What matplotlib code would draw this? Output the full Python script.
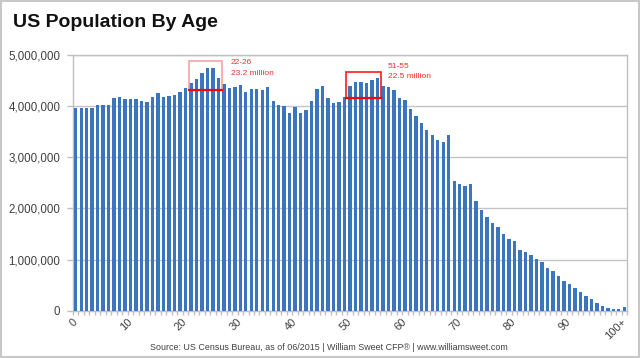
import matplotlib
matplotlib.use("Agg")
import matplotlib.pyplot as plt
from matplotlib.patches import Rectangle
from matplotlib.ticker import FuncFormatter, FixedLocator
import numpy as np

ages = list(range(0, 101))
population_millions = [
    3.97, 3.97, 3.97, 3.97, 4.02, 4.02, 4.02, 4.16, 4.18, 4.13,
    4.13, 4.13, 4.10, 4.08, 4.18, 4.25, 4.18, 4.20, 4.22, 4.28,
    4.36, 4.46, 4.53, 4.65, 4.74, 4.74, 4.55, 4.44, 4.36, 4.38,
    4.42, 4.28, 4.34, 4.34, 4.31, 4.38, 4.11, 4.03, 4.00, 3.87,
    3.99, 3.86, 3.93, 4.10, 4.34, 4.40, 4.16, 4.06, 4.08, 4.18,
    4.40, 4.47, 4.47, 4.46, 4.51, 4.56, 4.40, 4.37, 4.32, 4.16,
    4.12, 3.95, 3.80, 3.68, 3.53, 3.44, 3.34, 3.30, 3.43, 2.53,
    2.48, 2.43, 2.47, 2.15, 1.96, 1.84, 1.72, 1.63, 1.50, 1.41,
    1.36, 1.19, 1.14, 1.08, 1.01, 0.95, 0.84, 0.77, 0.68, 0.59,
    0.52, 0.44, 0.36, 0.29, 0.22, 0.16, 0.10, 0.06, 0.04, 0.03,
    0.07,
]
population = [v * 1e6 for v in population_millions]
xtick_positions = [0, 10, 20, 30, 40, 50, 60, 70, 80, 90, 100]
xtick_labels = ["0", "10", "20", "30", "40", "50", "60", "70", "80", "90", "100+"]
yticks = [0, 1000000, 2000000, 3000000, 4000000, 5000000]

title = "US Population By Age"
source = "Source: US Census Bureau, as of 06/2015 | William Sweet CFP\u00ae | www.williamsweet.com"
ann1 = ("22-26", "23.2 million")
ann2 = ("51-55", "22.5 million")

regular = ["Liberation Sans", "DejaVu Sans"]

fig = plt.figure(figsize=(6.4, 3.58), dpi=100)
fig.patch.set_facecolor("white")
ax = fig.add_axes([73 / 640, 1 - 310.7 / 358, 554 / 640, (310.7 - 55) / 358])

ax.bar(ages, population, width=0.62, color="#3a75bd", zorder=3)

ax.set_xlim(-0.5, 100.5)
ax.set_ylim(0, 5000000)
ax.set_yticks(yticks)
ax.yaxis.set_major_formatter(FuncFormatter(lambda v, p: f"{int(v):,}"))
ax.grid(axis="y", color="#c4c4c4", linewidth=1, zorder=0)
ax.set_axisbelow(True)

for s in ax.spines.values():
    s.set_color("#bfbfbf")
    s.set_linewidth(1)

ax.set_xticks(xtick_positions)
ax.set_xticklabels(xtick_labels, rotation=45, ha="right", va="center",
                   rotation_mode="anchor", family=regular, fontsize=8, color="#404040")
ax.xaxis.set_minor_locator(FixedLocator(np.arange(-0.5, 101, 1.0)))
ax.tick_params(axis="x", which="major", length=0, pad=7)
ax.tick_params(axis="x", which="minor", length=3, color="#bfbfbf", width=1)
ax.tick_params(axis="y", length=4, color="#bfbfbf", width=1, pad=5)
for lab in ax.get_yticklabels():
    lab.set_family(regular)
    lab.set_fontsize(8.3)
    lab.set_color("#404040")

# annotation boxes
r1 = Rectangle((20.65, 4.32e6), 6.0, 0.57e6, fill=False, edgecolor="#f7a3a3",
               linewidth=1.2, zorder=5)
ax.add_patch(r1)
ax.plot([20.65, 26.65], [4.32e6, 4.32e6], color="#ff0000", linewidth=1.6, zorder=6)
r2 = Rectangle((49.33, 4.16e6), 6.37, 0.51e6, fill=False, edgecolor="#ff1a1a",
               linewidth=1.2, zorder=5)
ax.add_patch(r2)
ax.plot([49.33, 55.7], [4.16e6, 4.16e6], color="#ff0000", linewidth=1.6, zorder=6)

ax.text(28.3, 4.85e6, ann1[0], fontsize=6, color="#ee3030", va="center", ha="left",
        family=regular, zorder=7)
ax.text(28.3, 4.63e6, ann1[1], fontsize=6, color="#ee3030", va="center", ha="left",
        family=regular, zorder=7)
ax.text(56.9, 4.77e6, ann2[0], fontsize=6, color="#ee3030", va="center", ha="left",
        family=regular, zorder=7)
ax.text(56.9, 4.57e6, ann2[1], fontsize=6, color="#ee3030", va="center", ha="left",
        family=regular, zorder=7)

fig.text(13 / 640, 1 - 26.7 / 358, title, fontsize=14, fontweight="bold",
         family=regular, color="#111111", ha="left", va="baseline")
fig.text(329 / 640, 1 - 348 / 358, source, fontsize=6.4, family=regular,
         color="#404040", ha="center", va="center")

fig.patches.append(Rectangle((0.001, 0.002), 0.997, 0.995, transform=fig.transFigure,
                             fill=False, edgecolor="#c8c8c8", linewidth=1.5))

fig.savefig("out.png", dpi=100)
